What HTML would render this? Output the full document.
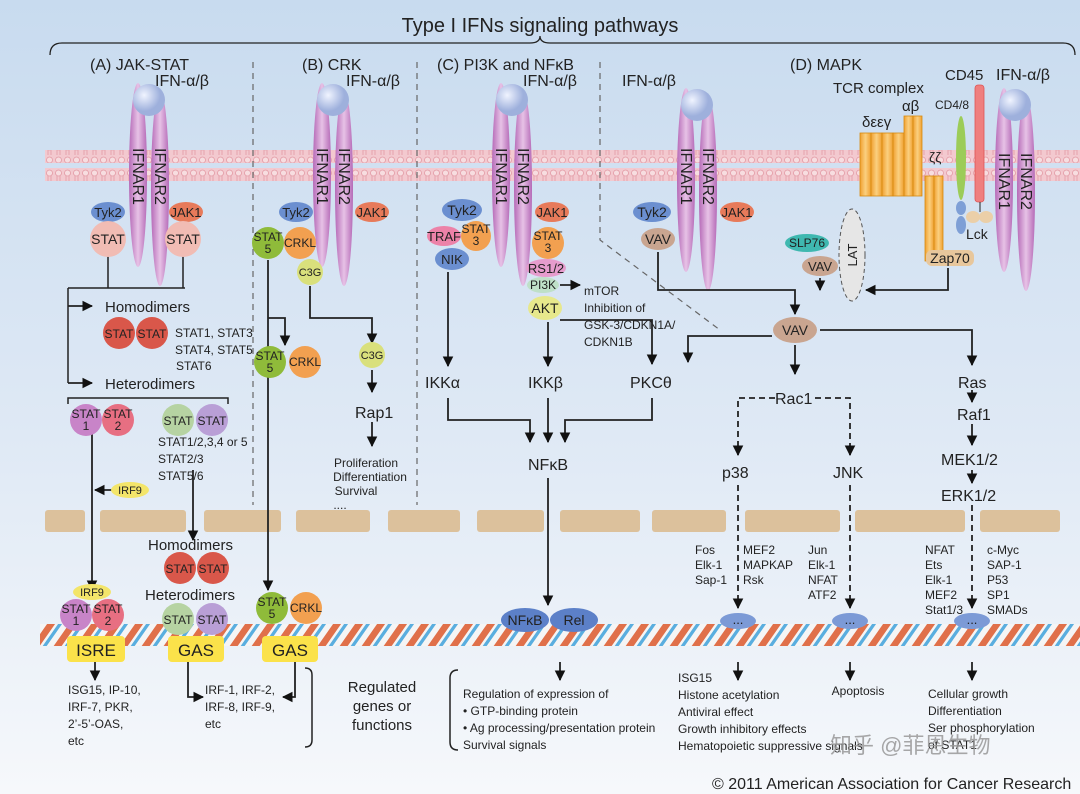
<!DOCTYPE html>
<html><head><meta charset="utf-8"><style>
html,body{margin:0;padding:0;}
body{width:1080px;height:794px;overflow:hidden;}
svg{display:block;font-family:"Liberation Sans","Noto Sans CJK SC",sans-serif;}
</style></head><body>
<svg width="1080" height="794" viewBox="0 0 1080 794" xmlns="http://www.w3.org/2000/svg">
<defs>
<linearGradient id="bg" x1="0" y1="0" x2="0" y2="1">
<stop offset="0" stop-color="#c8dbef"/><stop offset="0.55" stop-color="#dfe9f5"/><stop offset="1" stop-color="#f6f8fb"/></linearGradient>
<pattern id="lip" width="9" height="13" patternUnits="userSpaceOnUse">
<rect width="9" height="13" fill="#f3c9cf"/><circle cx="4.5" cy="4" r="3" fill="#f7dde0" stroke="#e39aa5" stroke-width="0.8"/><path d="M3 7 L3 12 M6 7 L6 12" stroke="#e39aa5" stroke-width="0.8"/></pattern>
<pattern id="dna" width="22" height="26" patternUnits="userSpaceOnUse" patternTransform="skewX(-35)">
<rect width="22" height="26" fill="#f5f5f5"/><rect x="0" width="8" height="26" fill="#e0704a"/><rect x="11" width="4" height="26" fill="#5aaedf"/></pattern>
<radialGradient id="ball" cx="0.35" cy="0.35"><stop offset="0" stop-color="#f0f4ff"/><stop offset="1" stop-color="#9eb0dc"/></radialGradient>
<linearGradient id="rec" x1="0" x2="1"><stop offset="0" stop-color="#b56ab7"/><stop offset="0.5" stop-color="#e7c2e6"/><stop offset="1" stop-color="#b56ab7"/></linearGradient>
<linearGradient id="orb" x1="0" x2="1"><stop offset="0" stop-color="#f0a030"/><stop offset="0.5" stop-color="#fbd080"/><stop offset="1" stop-color="#f0a030"/></linearGradient>
<marker id="ar" viewBox="0 0 10 10" refX="9" refY="5" markerWidth="6" markerHeight="6" orient="auto"><path d="M0 0 L10 5 L0 10z" fill="#111"/></marker>
<g id="recp">
<ellipse cx="-11" cy="175" rx="9" ry="92" fill="url(#rec)"/>
<ellipse cx="11" cy="188" rx="9" ry="98" fill="url(#rec)"/>
<circle cx="0" cy="100" r="16" fill="url(#ball)"/>
</g>
</defs>
<rect width="1080" height="794" fill="url(#bg)"/>

<rect x="45" y="150" width="1035" height="13" fill="url(#lip)"/>
<rect x="45" y="168" width="1035" height="13" fill="url(#lip)"/>

<text x="540" y="32" font-size="20" text-anchor="middle" fill="#222">Type I IFNs signaling pathways</text>
<path d="M50 55 Q50 43 62 43 L530 43 Q540 43 540 36 Q540 43 550 43 L1063 43 Q1075 43 1075 55" fill="none" stroke="#222" stroke-width="1.3"/>

<g font-size="16" fill="#222">
<text x="90" y="70">(A) JAK-STAT</text><text x="155" y="86">IFN-α/β</text>
<text x="302" y="70">(B) CRK</text><text x="346" y="86">IFN-α/β</text>
<text x="437" y="70">(C) PI3K and NFκB</text><text x="523" y="86">IFN-α/β</text>
<text x="622" y="86">IFN-α/β</text>
<text x="790" y="70">(D) MAPK</text>
<text x="833" y="93" font-size="15">TCR complex</text>
<text x="945" y="80" font-size="15">CD45</text><text x="996" y="80">IFN-α/β</text>
<text x="935" y="109" font-size="12">CD4/8</text>
<text x="862" y="127" font-size="15">δεεγ</text><text x="902" y="111" font-size="15">αβ</text>
<text x="929" y="162" font-size="14">ζζ</text>
</g>

<g stroke="#666" stroke-width="1.2" stroke-dasharray="6,5" fill="none">
<path d="M253 62 V505"/><path d="M417 62 V505"/>
<path d="M600 62 V240 L720 330"/>
</g>

<g stroke="#d68a10" stroke-width="0.8">
<rect x="860" y="133" width="11" height="63" fill="url(#orb)"/><rect x="871" y="133" width="11" height="63" fill="url(#orb)"/>
<rect x="882" y="133" width="11" height="63" fill="url(#orb)"/><rect x="893" y="133" width="11" height="63" fill="url(#orb)"/>
<rect x="904" y="116" width="9" height="80" fill="url(#orb)"/><rect x="913" y="116" width="9" height="80" fill="url(#orb)"/>
<rect x="925" y="176" width="9" height="85" fill="url(#orb)"/><rect x="934" y="176" width="9" height="85" fill="url(#orb)"/>
</g>
<ellipse cx="961" cy="158" rx="5" ry="42" fill="#9ccc58"/>
<ellipse cx="961" cy="208" rx="5" ry="7" fill="#7e9fd6"/><ellipse cx="961" cy="225" rx="5" ry="9" fill="#7e9fd6"/>
<rect x="975" y="85" width="9" height="117" rx="3" fill="#ef7f7f" stroke="#d55" stroke-width="0.8"/>
<line x1="980" y1="202" x2="980" y2="212" stroke="#222"/>
<ellipse cx="973" cy="217" rx="7" ry="6" fill="#ebcfa8"/><ellipse cx="986" cy="217" rx="7" ry="6" fill="#ebcfa8"/>
<text x="966" y="239" font-size="14" fill="#222">Lck</text>
<rect x="926" y="250" width="48" height="16" rx="6" fill="#e8c79c"/><text x="950" y="263" font-size="14" text-anchor="middle" fill="#222">Zap70</text>

<use href="#recp" x="149" y="0"/>
<use href="#recp" x="333" y="0"/>
<use href="#recp" x="512" y="0"/>
<use href="#recp" x="697" y="5"/>
<use href="#recp" x="1015" y="5"/>
<g font-size="16" fill="#222">
<text transform="translate(133,148) rotate(90)">IFNAR1</text><text transform="translate(155,148) rotate(90)">IFNAR2</text>
<text transform="translate(317,148) rotate(90)">IFNAR1</text><text transform="translate(339,148) rotate(90)">IFNAR2</text>
<text transform="translate(496,148) rotate(90)">IFNAR1</text><text transform="translate(518,148) rotate(90)">IFNAR2</text>
<text transform="translate(681,148) rotate(90)">IFNAR1</text><text transform="translate(703,148) rotate(90)">IFNAR2</text>
<text transform="translate(999,153) rotate(90)">IFNAR1</text><text transform="translate(1021,153) rotate(90)">IFNAR2</text>
</g>

<g fill="#dcc19c">
<rect x="45" y="510" width="40" height="22" rx="3"/><rect x="100" y="510" width="86" height="22" rx="3"/>
<rect x="204" y="510" width="77" height="22" rx="3"/><rect x="296" y="510" width="74" height="22" rx="3"/>
<rect x="388" y="510" width="72" height="22" rx="3"/><rect x="477" y="510" width="67" height="22" rx="3"/>
<rect x="560" y="510" width="80" height="22" rx="3"/><rect x="652" y="510" width="74" height="22" rx="3"/>
<rect x="745" y="510" width="95" height="22" rx="3"/><rect x="855" y="510" width="110" height="22" rx="3"/>
<rect x="980" y="510" width="80" height="22" rx="3"/>
</g>

<rect x="40" y="624" width="1040" height="22" fill="url(#dna)"/>
<g fill="#fbe24a"><rect x="67" y="636" width="58" height="26" rx="4"/><rect x="168" y="636" width="56" height="26" rx="4"/><rect x="262" y="636" width="56" height="26" rx="4"/></g>
<g font-size="17" text-anchor="middle" fill="#222"><text x="96" y="656">ISRE</text><text x="196" y="656">GAS</text><text x="290" y="656">GAS</text></g>

<g stroke="#222" stroke-width="1.8" fill="none" marker-end="url(#ar)">
<path d="M92 430 V590"/><path d="M193 470 V540"/><path d="M112 490 H95"/>
<path d="M68 306 H92"/><path d="M68 383 H92"/>
<path d="M95 662 V680"/><path d="M188 662 V697 H203"/><path d="M295 662 V697 H283"/>
<path d="M268 260 V590"/><path d="M268 318 H285 V345"/><path d="M310 286 V318 H372 V343"/><path d="M372 370 V392"/><path d="M372 422 V446"/>
<path d="M448 272 V366"/><path d="M548 322 V366"/><path d="M560 320 H652 V364"/><path d="M560 285 H580"/>
<path d="M448 398 V420 H530 V442"/><path d="M548 398 V442"/><path d="M652 398 V420 H565 V442"/>
<path d="M548 478 V605"/><path d="M560 662 V680"/>
<path d="M658 252 V290 H795 V314"/><path d="M820 278 V290"/><path d="M948 268 V290 H866"/>
<path d="M772 336 H688 V362"/><path d="M795 345 V374"/><path d="M820 330 H972 V365"/>
<path d="M972 390 V402"/><path d="M972 424 V445"/><path d="M972 470 V483"/>
<path d="M738 662 V680"/><path d="M850 662 V680"/><path d="M972 662 V680"/>
</g>
<g stroke="#222" stroke-width="1.5" fill="none">
<path d="M108 255 V288 M183 255 V288 M68 288 H185 M68 288 V383"/>
<path d="M68 404 V398 H228 V404"/>
<path d="M305 668 Q312 668 312 675 V740 Q312 747 305 747"/>
<path d="M458 670 Q450 670 450 678 V742 Q450 750 458 750"/>
</g>
<g stroke="#222" stroke-width="1.8" fill="none" stroke-dasharray="6,4">
<path d="M775 398 H738 V455" marker-end="url(#ar)"/><path d="M815 398 H850 V455" marker-end="url(#ar)"/>
<path d="M738 485 V608" marker-end="url(#ar)"/><path d="M850 485 V608" marker-end="url(#ar)"/><path d="M972 505 V608" marker-end="url(#ar)"/>
</g>

<g stroke="none">
<ellipse cx="108" cy="212" rx="17" ry="10" fill="#6b8fd0"/><ellipse cx="186" cy="212" rx="17" ry="10" fill="#e77a5a"/>
<circle cx="108" cy="239" r="18" fill="#f1bcb4"/><circle cx="183" cy="239" r="18" fill="#f1bcb4"/>
<circle cx="119" cy="333" r="16" fill="#d9574a"/><circle cx="152" cy="333" r="16" fill="#d9574a"/>
<circle cx="86" cy="420" r="16" fill="#c884c8"/><circle cx="118" cy="420" r="16" fill="#e76f82"/>
<circle cx="178" cy="420" r="16" fill="#b6d3a2"/><circle cx="212" cy="420" r="16" fill="#b99fd6"/>
<ellipse cx="130" cy="490" rx="19" ry="8" fill="#f3e56a"/>
<circle cx="180" cy="568" r="16" fill="#d9574a"/><circle cx="213" cy="568" r="16" fill="#d9574a"/>
<circle cx="178" cy="619" r="16" fill="#b6d3a2"/><circle cx="212" cy="619" r="16" fill="#b99fd6"/>
<ellipse cx="92" cy="592" rx="19" ry="8" fill="#f3e56a"/>
<circle cx="76" cy="615" r="16" fill="#c884c8"/><circle cx="108" cy="615" r="16" fill="#e76f82"/>
<ellipse cx="296" cy="212" rx="17" ry="10" fill="#6b8fd0"/><ellipse cx="372" cy="212" rx="17" ry="10" fill="#e77a5a"/>
<circle cx="268" cy="243" r="16" fill="#8fbb3a"/><circle cx="300" cy="243" r="16" fill="#f2a050"/><circle cx="310" cy="272" r="13" fill="#d9e07c"/>
<circle cx="270" cy="362" r="16" fill="#8fbb3a"/><circle cx="305" cy="362" r="16" fill="#f2a050"/>
<circle cx="372" cy="355" r="13" fill="#d9e07c"/>
<circle cx="272" cy="608" r="16" fill="#8fbb3a"/><circle cx="306" cy="608" r="16" fill="#f2a050"/>
<ellipse cx="462" cy="210" rx="20" ry="11" fill="#6b8fd0"/><ellipse cx="444" cy="236" rx="17" ry="10" fill="#ec82a8"/>
<circle cx="476" cy="236" r="15" fill="#f2a050"/><ellipse cx="452" cy="259" rx="17" ry="11" fill="#6b8fd0"/>
<ellipse cx="552" cy="212" rx="17" ry="10" fill="#e77a5a"/><circle cx="548" cy="243" r="16" fill="#f2a050"/>
<ellipse cx="546" cy="268" rx="20" ry="9" fill="#e69ccd"/><ellipse cx="543" cy="285" rx="16" ry="8" fill="#bfe0c8"/>
<ellipse cx="545" cy="308" rx="17" ry="12" fill="#e7e88c"/>
<ellipse cx="525" cy="620" rx="24" ry="12" fill="#5c80c8"/><ellipse cx="574" cy="620" rx="24" ry="12" fill="#5c80c8"/>
<ellipse cx="652" cy="212" rx="19" ry="10" fill="#6b8fd0"/><ellipse cx="658" cy="239" rx="17" ry="11" fill="#c9a590"/>
<ellipse cx="737" cy="212" rx="17" ry="10" fill="#e77a5a"/>
<ellipse cx="807" cy="243" rx="22" ry="9" fill="#3fb8b0"/><ellipse cx="820" cy="266" rx="18" ry="10" fill="#c9a590"/>
<ellipse cx="852" cy="255" rx="13" ry="46" fill="#e6e6e6" stroke="#555" stroke-dasharray="4,3"/>
<ellipse cx="795" cy="330" rx="22" ry="13" fill="#c9a590"/>
<ellipse cx="738" cy="621" rx="18" ry="8" fill="#7c9ad6"/><ellipse cx="850" cy="621" rx="18" ry="8" fill="#7c9ad6"/><ellipse cx="972" cy="621" rx="18" ry="8" fill="#7c9ad6"/>
</g>

<g font-size="13" text-anchor="middle" fill="#222">
<text x="108" y="217">Tyk2</text><text x="186" y="217">JAK1</text>
<text x="108" y="244" font-size="14">STAT</text><text x="183" y="244" font-size="14">STAT</text>
<text x="119" y="338" font-size="12">STAT</text><text x="152" y="338" font-size="12">STAT</text>
<text x="86" y="418" font-size="12">STAT</text><text x="86" y="430" font-size="12">1</text>
<text x="118" y="418" font-size="12">STAT</text><text x="118" y="430" font-size="12">2</text>
<text x="178" y="425" font-size="12">STAT</text><text x="212" y="425" font-size="12">STAT</text>
<text x="130" y="494" font-size="11">IRF9</text>
<text x="180" y="573" font-size="12">STAT</text><text x="213" y="573" font-size="12">STAT</text>
<text x="178" y="624" font-size="12">STAT</text><text x="212" y="624" font-size="12">STAT</text>
<text x="92" y="596" font-size="11">IRF9</text>
<text x="76" y="613" font-size="12">STAT</text><text x="76" y="625" font-size="12">1</text>
<text x="108" y="613" font-size="12">STAT</text><text x="108" y="625" font-size="12">2</text>
<text x="296" y="217">Tyk2</text><text x="372" y="217">JAK1</text>
<text x="268" y="241" font-size="12">STAT</text><text x="268" y="253" font-size="12">5</text><text x="300" y="247" font-size="12">CRKL</text><text x="310" y="276" font-size="11">C3G</text>
<text x="270" y="360" font-size="12">STAT</text><text x="270" y="372" font-size="12">5</text><text x="305" y="366" font-size="12">CRKL</text>
<text x="372" y="359" font-size="11">C3G</text>
<text x="272" y="606" font-size="12">STAT</text><text x="272" y="618" font-size="12">5</text><text x="306" y="612" font-size="12">CRKL</text>
<text x="462" y="215" font-size="14">Tyk2</text><text x="444" y="241" font-size="13">TRAF</text>
<text x="476" y="233" font-size="12">STAT</text><text x="476" y="245" font-size="12">3</text><text x="452" y="264" font-size="13">NIK</text>
<text x="552" y="217">JAK1</text><text x="548" y="240" font-size="12">STAT</text><text x="548" y="252" font-size="12">3</text>
<text x="546" y="273" font-size="13">RS1/2</text><text x="543" y="289" font-size="12">PI3K</text><text x="545" y="313" font-size="14">AKT</text>
<text x="525" y="625" font-size="14">NFκB</text><text x="574" y="625" font-size="14">Rel</text>
<text x="652" y="217" font-size="14">Tyk2</text><text x="658" y="244" font-size="14">VAV</text><text x="737" y="217">JAK1</text>
<text x="807" y="247" font-size="12">SLP76</text><text x="820" y="271" font-size="13">VAV</text>
<text transform="translate(857,255) rotate(-90)" font-size="13">LAT</text>
<text x="795" y="335" font-size="14">VAV</text>
<text x="738" y="624">...</text><text x="850" y="624">...</text><text x="972" y="624">...</text>
</g>

<g font-size="15" fill="#222">
<text x="105" y="312">Homodimers</text><text x="105" y="389">Heterodimers</text>
<text x="148" y="550">Homodimers</text><text x="145" y="600">Heterodimers</text>
<text x="355" y="418" font-size="16">Rap1</text>
<text x="425" y="388" font-size="16">IKKα</text><text x="528" y="388" font-size="16">IKKβ</text><text x="630" y="388" font-size="16">PKCθ</text>
<text x="528" y="470" font-size="16">NFκB</text>
<text x="775" y="404" font-size="16">Rac1</text><text x="722" y="478" font-size="16">p38</text><text x="833" y="478" font-size="16">JNK</text>
<text x="958" y="388" font-size="16">Ras</text><text x="957" y="420" font-size="16">Raf1</text>
<text x="941" y="465" font-size="16">MEK1/2</text><text x="941" y="501" font-size="16">ERK1/2</text>
<text x="382" y="692" text-anchor="middle">Regulated</text><text x="382" y="711" text-anchor="middle">genes or</text><text x="382" y="730" text-anchor="middle">functions</text>
</g>
<g font-size="12" fill="#222">
<text x="175" y="337">STAT1, STAT3</text><text x="175" y="354">STAT4, STAT5</text><text x="176" y="370">STAT6</text>
<text x="158" y="446">STAT1/2,3,4 or 5</text><text x="158" y="463">STAT2/3</text><text x="158" y="480">STAT5/6</text>
<text x="68" y="694">ISG15, IP-10,</text><text x="68" y="711">IRF-7, PKR,</text><text x="68" y="728">2’-5’-OAS,</text><text x="68" y="745">etc</text>
<text x="205" y="694">IRF-1, IRF-2,</text><text x="205" y="711">IRF-8, IRF-9,</text><text x="205" y="728">etc</text>
<g text-anchor="middle"><text x="366" y="467">Proliferation</text><text x="370" y="481">Differentiation</text><text x="356" y="495">Survival</text><text x="340" y="509">....</text></g>
<text x="584" y="295">mTOR</text><text x="584" y="312">Inhibition of</text><text x="584" y="329">GSK-3/CDKN1A/</text><text x="584" y="346">CDKN1B</text>
<text x="463" y="698">Regulation of expression of</text><text x="463" y="715">• GTP-binding protein</text><text x="463" y="732">• Ag processing/presentation protein</text><text x="463" y="749">Survival signals</text>
<text x="695" y="554">Fos</text><text x="695" y="569">Elk-1</text><text x="695" y="584">Sap-1</text>
<text x="743" y="554">MEF2</text><text x="743" y="569">MAPKAP</text><text x="743" y="584">Rsk</text>
<text x="808" y="554">Jun</text><text x="808" y="569">Elk-1</text><text x="808" y="584">NFAT</text><text x="808" y="599">ATF2</text>
<text x="925" y="554">NFAT</text><text x="925" y="569">Ets</text><text x="925" y="584">Elk-1</text><text x="925" y="599">MEF2</text><text x="925" y="614">Stat1/3</text>
<text x="987" y="554">c-Myc</text><text x="987" y="569">SAP-1</text><text x="987" y="584">P53</text><text x="987" y="599">SP1</text><text x="987" y="614">SMADs</text>
<text x="678" y="682">ISG15</text><text x="678" y="699">Histone acetylation</text><text x="678" y="716">Antiviral effect</text><text x="678" y="733">Growth inhibitory effects</text><text x="678" y="750">Hematopoietic suppressive signals</text>
<text x="858" y="695" text-anchor="middle">Apoptosis</text>
<text x="928" y="698">Cellular growth</text><text x="928" y="715">Differentiation</text><text x="928" y="732">Ser phosphorylation</text><text x="928" y="749">of STAT1</text>
</g>
<text x="830" y="753" font-size="22" fill="#999" opacity="0.85">知乎 @菲恩生物</text>
<text x="712" y="789" font-size="16" fill="#222">© 2011 American Association for Cancer Research</text>
</svg>
</body></html>
